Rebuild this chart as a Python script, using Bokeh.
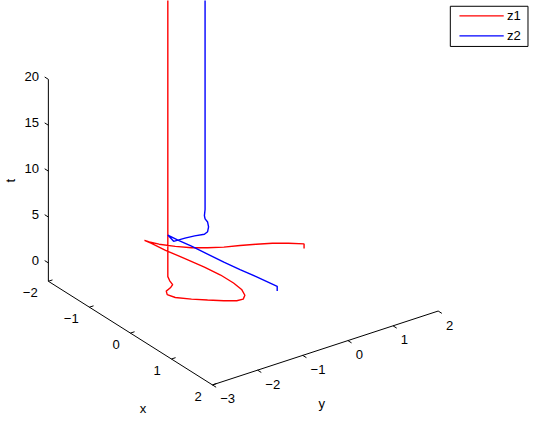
import numpy as np
from bokeh.plotting import figure
from bokeh.models import Range1d
from bokeh.embed import file_html
from bokeh.resources import INLINE
from bokeh.core.properties import value

# ---------------- data ----------------
z1_t = [-0.5, 0, 0.1, 0.2, 0.3, 0.4, 0.5, 0.6, 0.7, 0.8, 0.9, 0.95, 1.0, 1.05, 1.15, 1.3,
        1.45, 1.6, 1.75, 1.9, 2.0, 2.1, 2.2, 2.3, 2.4, 2.5, 2.6, 2.7, 2.8, 2.9, 3.0, 3.1, 3.2, 35]
z1_x = [-0.356, -0.356, -0.479, -0.590, -0.677, -0.756, -0.826, -0.921, -1.031, -1.177, -1.345,
        -1.471, -1.541, -1.402, -1.078, -0.669, -0.259, 0.114, 0.460, 0.726, 0.924, 1.031, 1.042,
        0.958, 0.829, 0.694, 0.541, 0.424, 0.351, 0.325, 0.287, 0.188, 0.090, 0.090]
z1_y = [1.170, 1.170, 0.938, 0.681, 0.400, 0.115, -0.180, -0.454, -0.710, -0.937, -1.143,
        -1.244, -1.288, -1.271, -1.242, -1.184, -1.126, -1.106, -1.134, -1.197, -1.304, -1.438,
        -1.592, -1.801, -2.044, -2.278, -2.498, -2.570, -2.525, -2.410, -2.325, -2.300, -2.253, -2.253]

z2_t = [-0.5, 0, 0.15, 0.3, 0.45, 0.6, 0.75, 0.9, 1.05, 1.15, 1.3, 1.45, 1.6, 1.75, 1.9,
        2.05, 2.2, 2.35, 3.0, 35]
z2_x = [0.498, 0.498, 0.113, -0.167, -0.453, -0.759, -1.061, -1.282, -1.470, -1.239, -1.190,
        -1.133, -1.057, -1.061, -1.141, -1.236, -1.303, -1.357, -1.354, -1.354]
z2_y = [-0.201, -0.201, -0.318, -0.420, -0.519, -0.601, -0.683, -0.771, -0.836, -0.917, -0.710,
        -0.547, -0.401, -0.326, -0.232, -0.167, -0.162, -0.128, -0.116, -0.116]

x_ticks = [-2, -1, 0, 1, 2]
y_ticks = [-3, -2, -1, 0, 1, 2]
t_ticks = [0, 5, 10, 15, 20]
series_names = ["z1", "z2"]
series_colors = ["#ff0000", "#0000ff"]

X_LIM = (-2, 2)
Y_LIM = (-3, 2)
T_LIM = (-2, 20)

# ---------------- 3-D view (orthographic), in units of a 550x435 canvas ----------------
ORIGIN = np.array([49.3, 291.5])    # screen position of the (xmin, ymin, tmin) corner
EX = np.array([42.25, 26.9])        # screen step per unit of x
EY = np.array([46.5, -15.34])       # screen step per unit of y
ET = np.array([0.0, -9.53])         # screen step per unit of t


def proj(x, y, t):
    x = np.asarray(x, float) - X_LIM[0]
    y = np.asarray(y, float) - Y_LIM[0]
    t = np.asarray(t, float) - T_LIM[0]
    sx = ORIGIN[0] + x * EX[0] + y * EY[0] + t * ET[0]
    sy = ORIGIN[1] + x * EX[1] + y * EY[1] + t * ET[1]
    return sx, sy


def fmt(v):
    return str(v).replace("-", "\u2212")


W, H = 534, 419
VW, VH = 550, 435
p = figure(width=W, height=H, output_backend="svg", toolbar_location=None,
           x_range=Range1d(0, VW), y_range=Range1d(VH, 0),
           x_axis_location=None, y_axis_location=None, min_border=0)
p.grid.visible = False
p.outline_line_color = None
p.background_fill_color = "white"
p.border_fill_color = "white"

FONT = value("Liberation Sans")
FS = "13.1px"
ux = EX / np.hypot(*EX)
uy = EY / np.hypot(*EY)
TL = 4.5

# axis lines
ax_x0, ax_y0 = proj([X_LIM[0], X_LIM[0], X_LIM[1]], [Y_LIM[0], Y_LIM[0], Y_LIM[0]],
                    [T_LIM[1], T_LIM[0], T_LIM[0]])
p.line(list(ax_x0), list(ax_y0), color="black", line_width=1)
bx, by = proj([X_LIM[1], X_LIM[1]], [Y_LIM[0], Y_LIM[1]], [T_LIM[0], T_LIM[0]])
p.line(list(bx), list(by), color="black", line_width=1)

# t ticks
sx, sy = proj([X_LIM[0]] * len(t_ticks), [Y_LIM[0]] * len(t_ticks), t_ticks)
p.segment(x0=sx, y0=sy, x1=sx - TL * ux[0], y1=sy - TL * ux[1], color="black", line_width=1)
p.text(x=sx - 9.5, y=sy - 2.5, text=[fmt(v) for v in t_ticks], text_align="right",
       text_baseline="middle", text_font=FONT, text_font_size=FS, text_color="black")

# x ticks
sx, sy = proj(x_ticks, [Y_LIM[0]] * len(x_ticks), [T_LIM[0]] * len(x_ticks))
p.segment(x0=sx, y0=sy, x1=sx + TL * uy[0], y1=sy + TL * uy[1], color="black", line_width=1)
p.text(x=sx - 11, y=sy + 12, text=[fmt(v) for v in x_ticks], text_align="right",
       text_baseline="middle", text_font=FONT, text_font_size=FS, text_color="black")

# y ticks
sx, sy = proj([X_LIM[1]] * len(y_ticks), y_ticks, [T_LIM[0]] * len(y_ticks))
p.segment(x0=sx, y0=sy, x1=sx + TL * ux[0], y1=sy + TL * ux[1], color="black", line_width=1)
p.text(x=sx + 8, y=sy + 14.5, text=[fmt(v) for v in y_ticks], text_align="left",
       text_baseline="middle", text_font=FONT, text_font_size=FS, text_color="black")

# axis titles
p.text(x=[10], y=[187], text=["t"], angle=np.pi / 2, text_align="center",
       text_baseline="middle", text_font=FONT, text_font_size=FS, text_color="black")
p.text(x=[146.7, 331], y=[424, 418], text=["x", "y"], text_align="center",
       text_baseline="middle", text_font=FONT, text_font_size=FS, text_color="black")

# curves
for (tt, xx, yy), c in zip([(z1_t, z1_x, z1_y), (z2_t, z2_x, z2_y)], series_colors):
    cx, cy = proj(xx, yy, tt)
    p.line(list(cx), list(cy), color=c, line_width=1.4)

# legend box
LG_L, LG_R, LG_T, LG_B = 463.3, 543.3, 6, 47.7
p.quad(left=[LG_L], right=[LG_R], top=[LG_T], bottom=[LG_B], fill_color="white",
       line_color="black", line_width=1)
rows = [16, 36.7]
p.segment(x0=[LG_L + 9.4] * 2, y0=rows, x1=[LG_L + 55] * 2, y1=rows, color=series_colors,
          line_width=1.4)
p.text(x=[LG_L + 58.4] * 2, y=[r - 0.5 for r in rows], text=series_names, text_align="left",
       text_baseline="middle", text_font=FONT, text_font_size=FS, text_color="black")

open("out.html", "w").write(file_html(p, INLINE))
